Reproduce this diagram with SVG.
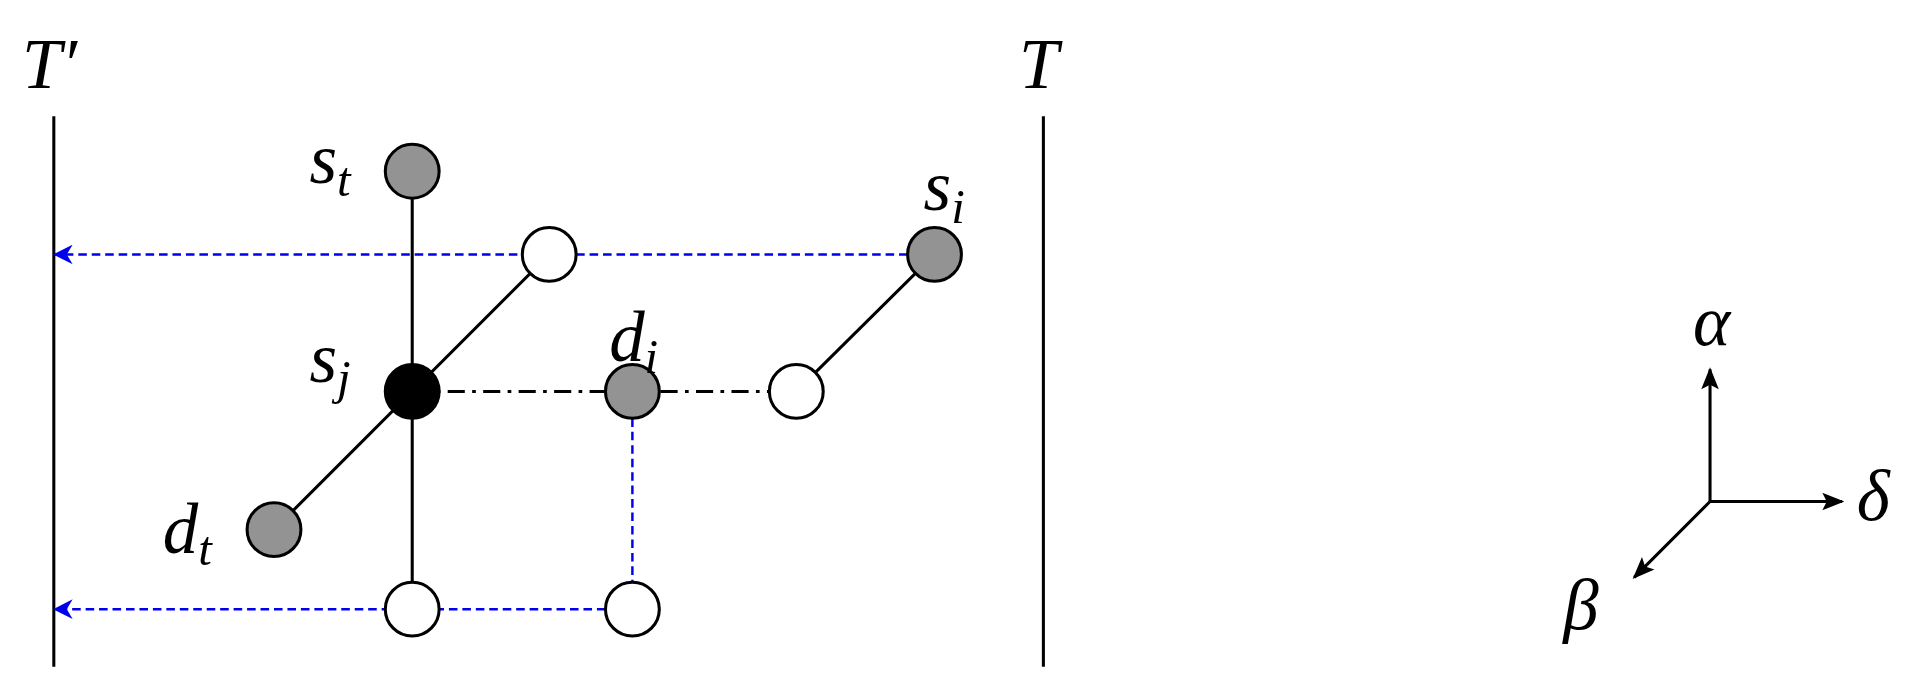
<svg xmlns="http://www.w3.org/2000/svg" width="1918" height="688" viewBox="0 0 1918 688">
<defs>
<style>
.t{font-family:"Liberation Serif",serif;font-style:italic;font-size:58px;fill:#000}
.sub{font-size:40px}
.n{stroke:#000;stroke-width:2.5}
.g{fill:#939393}.w{fill:#fff}.b{fill:#000}
.s{stroke:#000;stroke-width:2.5;fill:none}
.dd{stroke:#000;stroke-width:2.5;stroke-dasharray:14 6 3 6;fill:none}
.bl{stroke:#0000ee;stroke-width:2;stroke-dasharray:7 4;fill:none}
</style>
<marker id="ab" viewBox="0 0 10 10" refX="9" refY="5" markerWidth="20" markerHeight="16" orient="auto" markerUnits="userSpaceOnUse"><path d="M0,0L10,5L0,10L3,5z" fill="#0000ee"/></marker>
<marker id="ak" viewBox="0 0 10 10" refX="9" refY="5" markerWidth="20" markerHeight="18" orient="auto" markerUnits="userSpaceOnUse"><path d="M0,1L10,5L0,9L2,5z" fill="#000"/></marker>
</defs>
<rect width="1918" height="688" fill="#fff"/>
<g transform="scale(1.2232)">
<g id="walls">
<line x1="44" y1="95" x2="44" y2="545" class="s"/>
<line x1="853" y1="95" x2="853" y2="545" class="s"/>
<text x="18" y="72" class="t">T′</text>
<text x="833" y="72" class="t">T</text>
</g>
<g id="connectors">
<line x1="337" y1="140" x2="337" y2="498" class="s"/>
<line x1="224" y1="433" x2="449" y2="208" class="s"/>
<line x1="764" y1="208" x2="651" y2="320" class="s"/>
<line x1="337" y1="320" x2="651" y2="320" class="dd"/>
<line x1="742" y1="208" x2="45" y2="208" class="bl" marker-end="url(#ab)"/>
<line x1="517" y1="342" x2="517" y2="476" class="bl"/>
<line x1="495" y1="498" x2="45" y2="498" class="bl" marker-end="url(#ab)"/>
</g>
<g id="st"><circle cx="337" cy="140" r="22" class="n g"/><text x="253" y="150" class="t">s<tspan class="sub" dy="10">t</tspan></text></g>
<g id="w1"><circle cx="449" cy="208" r="22" class="n w"/></g>
<g id="si"><circle cx="764" cy="208" r="22" class="n g"/><text x="755" y="172" class="t">s<tspan class="sub" dy="10">i</tspan></text></g>
<g id="sj"><circle cx="337" cy="320" r="22" class="n b"/><text x="253" y="312" class="t">s<tspan class="sub" dy="10">j</tspan></text></g>
<g id="di"><circle cx="517" cy="320" r="22" class="n g"/><text x="498" y="295" class="t">d<tspan class="sub" dy="10">i</tspan></text></g>
<g id="w2"><circle cx="651" cy="320" r="22" class="n w"/></g>
<g id="dt"><circle cx="224" cy="433" r="22" class="n g"/><text x="133" y="452" class="t">d<tspan class="sub" dy="10">t</tspan></text></g>
<g id="w3"><circle cx="337" cy="498" r="22" class="n w"/></g>
<g id="w4"><circle cx="517" cy="498" r="22" class="n w"/></g>
<g id="axes">
<line x1="1398" y1="410" x2="1398" y2="302" class="s" marker-end="url(#ak)"/>
<line x1="1398" y1="410" x2="1506" y2="410" class="s" marker-end="url(#ak)"/>
<line x1="1398" y1="410" x2="1336" y2="472" class="s" marker-end="url(#ak)"/>
<text x="1384" y="282" class="t">α</text>
<text x="1518" y="425" class="t">δ</text>
<text x="1278" y="514" class="t">β</text>
</g>
</g>
</svg>
